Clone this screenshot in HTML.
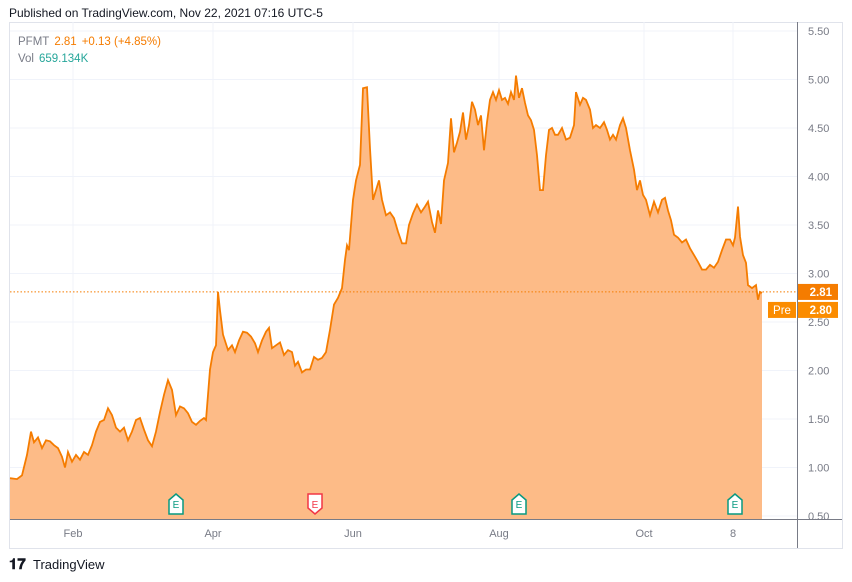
<!DOCTYPE html>
<html><head><meta charset="utf-8"><style>
body{margin:0;background:#fff;font-family:"Liberation Sans",sans-serif;}
svg{display:block}
</style></head><body>
<svg id="c" width="852" height="582" xmlns="http://www.w3.org/2000/svg">
<text x="9" y="17" font-size="12" fill="#131722">Published on TradingView.com, Nov 22, 2021 07:16 UTC-5</text>
<rect x="9.5" y="22.5" width="833" height="526" fill="none" stroke="#e0e3eb"/>
<g id="grid"></g>
<g id="vol"></g>
<path id="area" fill="#fdbb87"/>
<path id="line" fill="none" stroke="#f57c00" stroke-width="1.8"/>
<g id="ticks"></g>
<line x1="797.5" y1="22" x2="797.5" y2="548" stroke="#787b86"/>
<line x1="10" y1="519.5" x2="842" y2="519.5" stroke="#787b86"/>
<g id="marks"></g>
<text x="18" y="45" font-size="11.5"><tspan fill="#787b86">PFMT</tspan><tspan fill="#f57c00" dx="5">2.81</tspan><tspan fill="#f57c00" dx="5">+0.13 (+4.85%)</tspan></text>
<text x="18" y="62" font-size="11.5"><tspan fill="#787b86">Vol</tspan><tspan fill="#26a69a" dx="5">659.134K</tspan></text>
<g>
<text x="9" y="569" font-size="15" font-weight="bold" fill="#131722">𝟏𝟕</text>
<text x="33" y="569" font-size="13" fill="#131722">TradingView</text>
</g>
</svg>
<script>
const t=[0,7,12,17,21,24,28,32,36,40,44,48,52,55,58,62,66,70,74,78,82,86,90,94,98,102,106,110,114,118,122,126,130,134,138,142,146,150,154,158,162,166,170,174,178,182,186,190,194,196,198,200,203,206,208,210,213,218,222,225,229,233,237,241,245,248,252,256,259,262,266,270,274,278,282,285,288,292,296,300,304,308,312,316,320,324,328,332,335,337,339,343,346,350,353,357,360,363,366,369,372,376,380,384,388,392,396,399,403,407,411,415,418,422,425,428,431,434,438,441,444,447,450,453,456,459,462,465,468,471,474,477,480,483,486,489,492,495,498,501,504,506,509,512,515,518,521,524,527,530,533,536,539,542,545,548,552,556,560,564,566,570,573,576,580,583,586,590,594,597,600,603,606,610,613,616,620,624,627,630,633,636,640,644,648,652,655,658,661,664,668,672,676,680,684,688,692,696,700,704,708,712,716,720,723,725,728,730,733,736,738,742,746,748,750,752];
const price=[0.89,0.88,0.92,1.13,1.37,1.26,1.31,1.20,1.28,1.27,1.23,1.20,1.11,1.00,1.16,1.06,1.13,1.08,1.16,1.13,1.23,1.37,1.47,1.49,1.61,1.54,1.41,1.37,1.41,1.28,1.37,1.49,1.51,1.39,1.28,1.22,1.37,1.57,1.75,1.90,1.80,1.54,1.63,1.61,1.56,1.47,1.44,1.48,1.51,1.49,1.75,2.01,2.19,2.26,2.81,2.62,2.37,2.21,2.26,2.19,2.31,2.40,2.39,2.35,2.28,2.19,2.31,2.40,2.44,2.23,2.26,2.29,2.16,2.21,2.19,2.05,2.09,1.98,2.01,2.01,2.14,2.11,2.13,2.19,2.42,2.68,2.75,2.85,3.14,3.29,3.24,3.76,3.96,4.12,4.91,4.92,4.29,3.76,3.86,3.96,3.76,3.60,3.63,3.57,3.43,3.31,3.31,3.50,3.62,3.71,3.63,3.69,3.74,3.53,3.42,3.65,3.51,3.96,4.14,4.60,4.25,4.35,4.46,4.66,4.38,4.53,4.77,4.69,4.53,4.63,4.27,4.56,4.79,4.87,4.79,4.89,4.79,4.81,4.75,4.87,4.79,5.04,4.81,4.91,4.76,4.63,4.58,4.48,4.22,3.86,3.86,4.22,4.48,4.50,4.43,4.43,4.50,4.38,4.40,4.53,4.87,4.74,4.81,4.79,4.69,4.50,4.53,4.50,4.56,4.48,4.38,4.43,4.38,4.53,4.60,4.50,4.27,4.07,3.86,3.96,3.81,3.76,3.60,3.74,3.63,3.76,3.78,3.65,3.55,3.40,3.37,3.32,3.35,3.26,3.19,3.12,3.04,3.04,3.09,3.06,3.12,3.24,3.35,3.35,3.29,3.37,3.69,3.38,3.19,3.11,2.88,2.85,2.88,2.73,2.81,2.80];
const yTicks=[5.5,5.0,4.5,4.0,3.5,3.0,2.5,2.0,1.5,1.0,0.5];
const xLabels=["Feb","Apr","Jun","Aug","Oct","8"];
const xLabelT=[63,203,343,489,634,723];
const earnT=[166,305,509,725];
const earnType=["pos","neg","pos","pos"];
const volT=[198,208,210,215];
const volVal=[20,80,12,18];
const lastPrice=2.81, prePrice=2.80;

const X=v=>10+v*(752/752);
const Y=v=>31+(5.5-v)*97;
const NS="http://www.w3.org/2000/svg";
function mk(tag,attrs,parent){const e=document.createElementNS(NS,tag);for(const k in attrs)e.setAttribute(k,attrs[k]);parent.appendChild(e);return e;}
const grid=document.getElementById('grid'),ticks=document.getElementById('ticks'),marks=document.getElementById('marks'),vol=document.getElementById('vol');
yTicks.forEach(v=>{
 const l=mk('line',{x1:10,x2:797,y1:Y(v),y2:Y(v),stroke:'#f0f3fa'},grid);
 
 
 const tx=mk('text',{x:808,y:Y(v)+4,'font-size':11,fill:'#787b86'},ticks);
 tx.textContent=v.toFixed(2);
 
 
});
xLabels.forEach((s,i)=>{
 const x=X(xLabelT[i]);
 const l=mk('line',{x1:x,x2:x,y1:22,y2:519,stroke:'#f0f3fa'},grid);
 
 
 const tx=mk('text',{x:x,y:537,'font-size':11,fill:'#787b86','text-anchor':'middle'},ticks);
 tx.textContent=s;
 
 
});
let d='';t.forEach((v,i)=>{d+=(i?'L':'M')+X(v).toFixed(1)+','+Y(price[i]).toFixed(1);});
document.getElementById('line').setAttribute('d',d);
document.getElementById('area').setAttribute('d',d+'L'+X(t[t.length-1])+',519L'+X(0)+',519Z');
volT.forEach((v,i)=>{
 const r=mk('rect',{x:X(v)-0.5,y:519-volVal[i],width:1.5,height:volVal[i],fill:'#f7a26a'},vol);
 
 
});
const dl=mk('line',{x1:10,x2:797,y1:Y(lastPrice),y2:Y(lastPrice),stroke:'#f57c00','stroke-dasharray':'1.5 2'},marks);


const g1=mk('g',{},marks);


mk('rect',{x:798,y:Y(lastPrice)-8,width:40,height:16,fill:'#f57c00'},g1);
const t1=mk('text',{x:832,y:Y(lastPrice)+4,'font-size':11.5,fill:'#fff','text-anchor':'end','font-weight':'bold'},g1);t1.textContent=lastPrice.toFixed(2);
const g2=mk('g',{},marks);


mk('rect',{x:768,y:Y(lastPrice)+10,width:28,height:16,fill:'#fb8c00'},g2);
mk('rect',{x:798,y:Y(lastPrice)+10,width:40,height:16,fill:'#fb8c00'},g2);
const t2=mk('text',{x:782,y:Y(lastPrice)+22,'font-size':11.5,fill:'#fff','text-anchor':'middle'},g2);t2.textContent='Pre';
const t3=mk('text',{x:832,y:Y(lastPrice)+22,'font-size':11.5,fill:'#fff','text-anchor':'end','font-weight':'bold'},g2);t3.textContent=prePrice.toFixed(2);
earnT.forEach((v,i)=>{
 const x=X(v),c=earnType[i]==='pos'?'#089981':'#f23645';
 const g=mk('g',{},marks);
 
 
 const p=earnType[i]==='pos'?`M${x-7},514V500L${x},494L${x+7},500V514Z`:`M${x-7},494H${x+7}V508L${x},514L${x-7},508Z`;
 mk('path',{d:p,fill:'#fff',stroke:c,'stroke-width':1.5},g);
 const tx=mk('text',{x:x,y:508,'font-size':10,fill:c,'text-anchor':'middle'},g);tx.textContent='E';
});
</script>
</body></html>
